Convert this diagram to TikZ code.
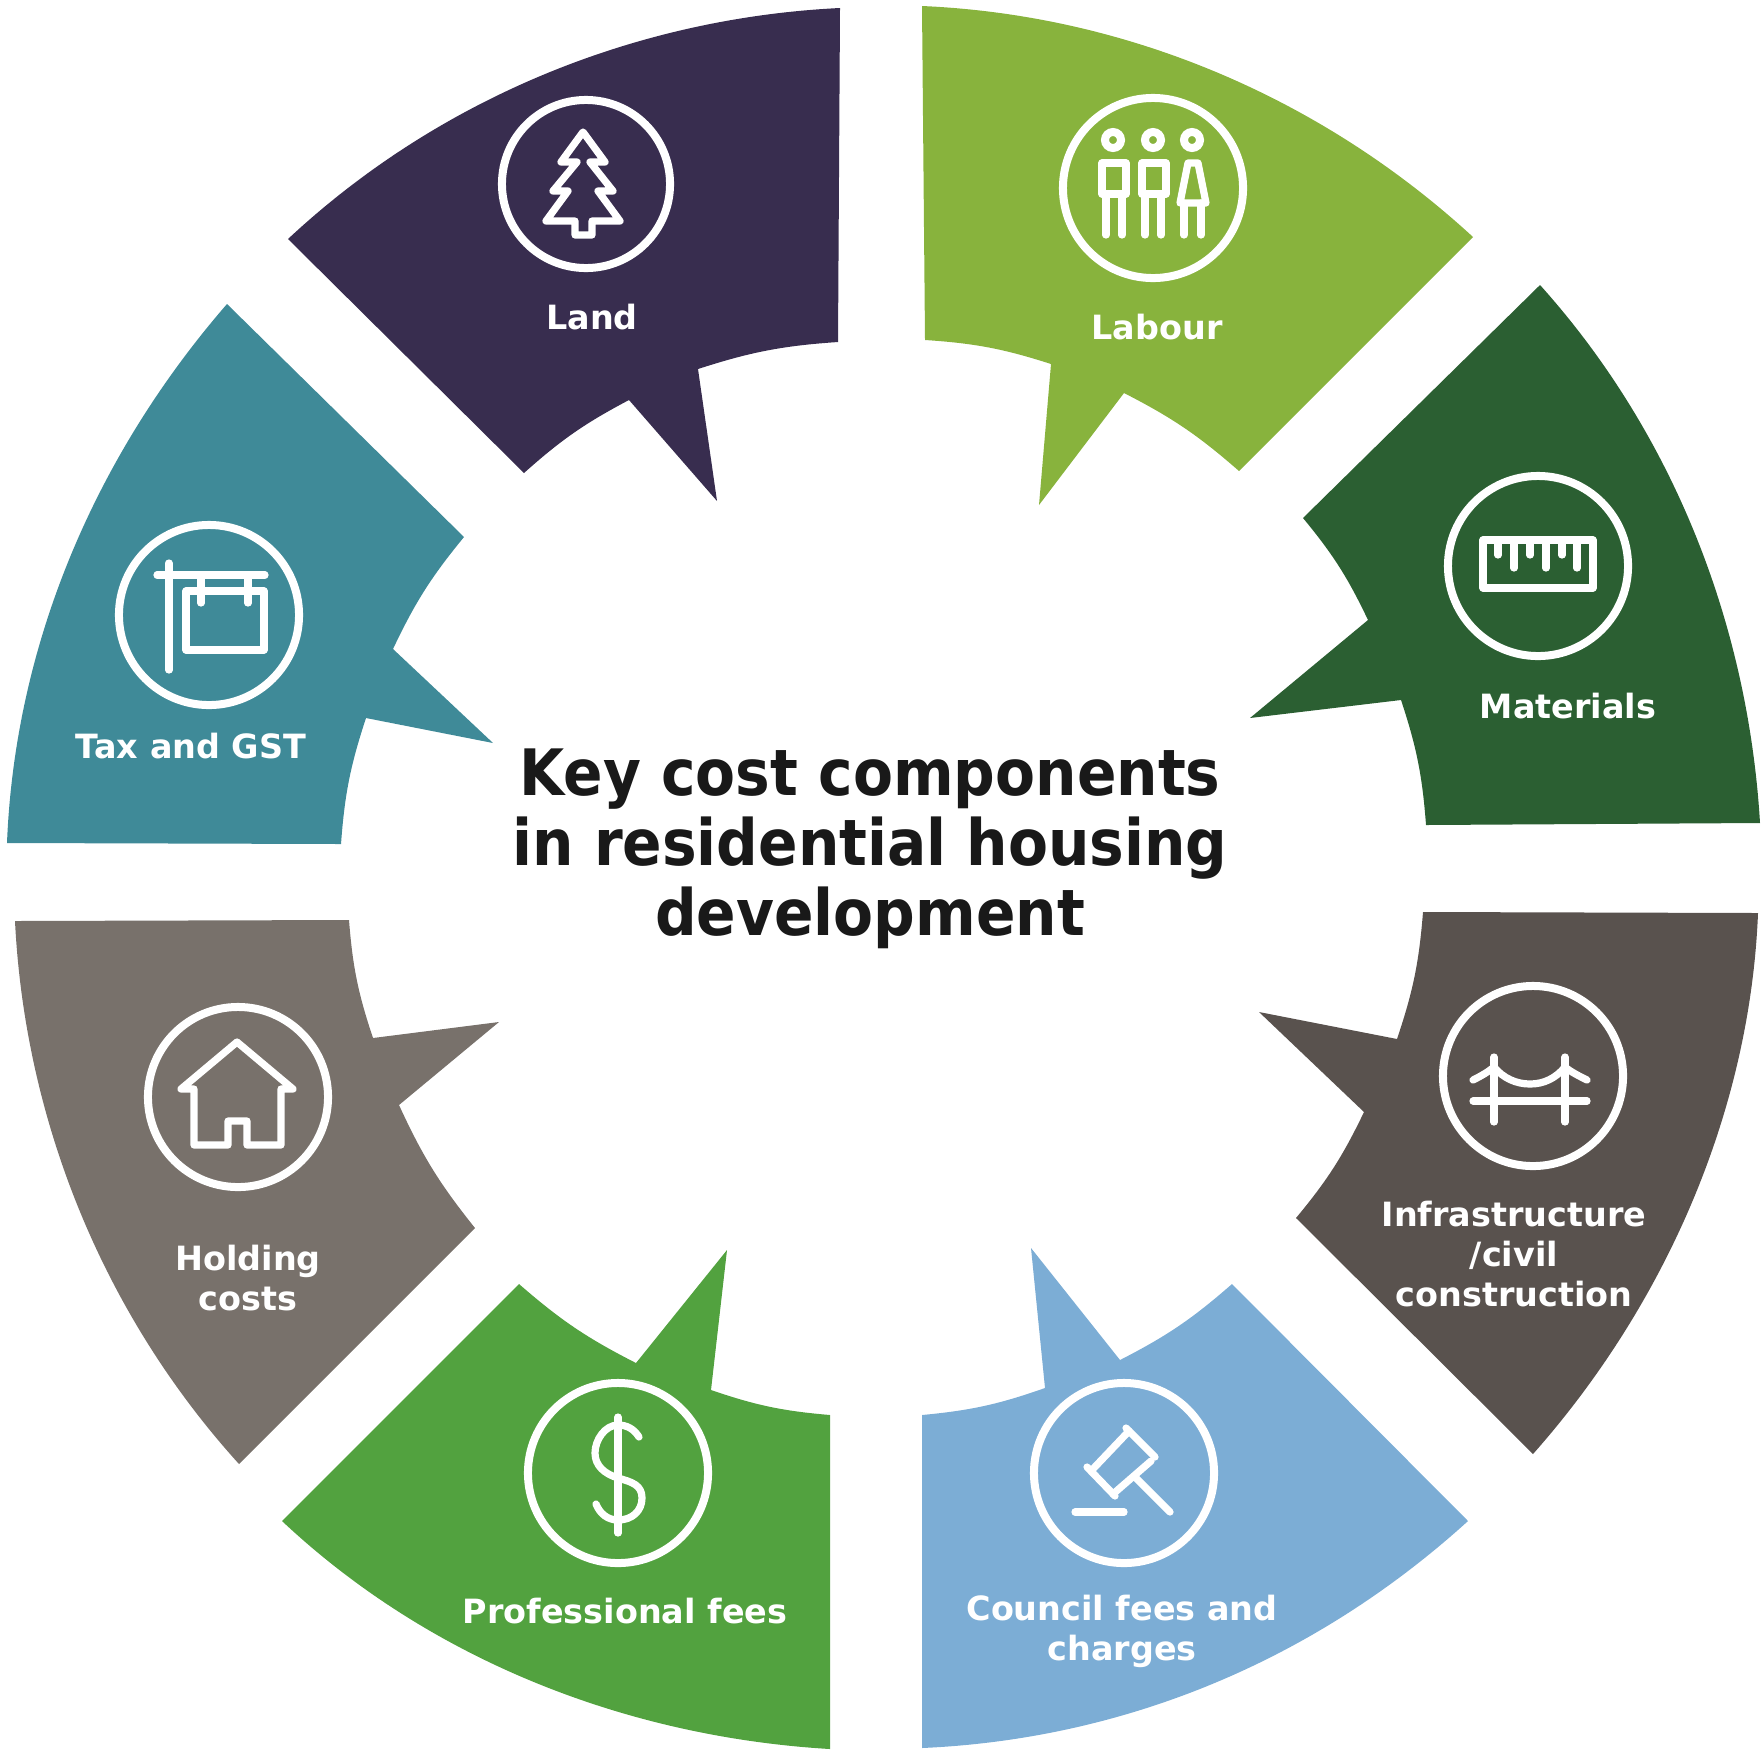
\documentclass[tikz,border=0pt]{standalone}
\usepackage{fontspec}
\setmainfont{DejaVu Sans}
\newfontfamily\titlefont[FakeStretch=0.91]{DejaVu Sans}
\definecolor{landcol}{HTML}{382D4F}
\definecolor{labourcol}{HTML}{88B33D}
\definecolor{matcol}{HTML}{2B5F32}
\definecolor{infracol}{HTML}{59524E}
\definecolor{councilcol}{HTML}{7CADD5}
\definecolor{profcol}{HTML}{52A23F}
\definecolor{holdcol}{HTML}{78716B}
\definecolor{taxcol}{HTML}{3F8A98}
\tikzset{
  ring/.style={draw=white,line width=0.08cm,circle,minimum size=1.8cm,inner sep=0pt},
  icon/.style={draw=white,line width=0.072cm,line cap=round,line join=round},
  lab/.style={text=white,font=\bfseries\fontsize{9.5}{11.38}\selectfont,align=center},
  inner/.style={bend right=7}
}
\begin{document}
\begin{tikzpicture}[x=0.01cm,y=-0.01cm]
\useasboundingbox (0,0) rectangle (1761,1751);
\fill[landcol] (288,239) .. controls (438,99) and (635,18) .. (840,8) -- (838,342) to[inner] (698,369) -- (717,501) -- (629,400) to[inner] (524,473) -- cycle;
\fill[labourcol] (922,6) .. controls (1127,15) and (1322,98) .. (1473,237) -- (1239,471) to[inner] (1124,393) -- (1039,505) -- (1051,364) to[inner] (925,340) -- cycle;
\fill[matcol] (1540,285) .. controls (1673,433) and (1748,624) .. (1760,823) -- (1426,825) to[inner] (1401,700) -- (1250,718) -- (1368,620) to[inner] (1303,518) -- cycle;
\fill[infracol] (1423,912) -- (1758,913) .. controls (1750,1112) and (1665,1305) .. (1533,1454) -- (1296,1218) to[inner] (1364,1112) -- (1259,1012) -- (1397,1039) to[inner] cycle;
\fill[councilcol] (1232,1284) -- (1468,1521) .. controls (1316,1659) and (1127,1739) .. (922,1748) -- (922,1415) to[inner] (1045,1388) -- (1031,1248) -- (1120,1360) to[inner] cycle;
\fill[profcol] (519,1284) to[inner] (636,1363) -- (727,1250) -- (711,1390) to[inner] (830,1415) -- (830,1749) .. controls (627,1737) and (430,1660) .. (282,1521) -- cycle;
\fill[holdcol] (15,921) -- (349,920) to[inner] (373,1038) -- (499,1022) -- (399,1105) to[inner] (475,1228) -- (239,1464) .. controls (104,1315) and (25,1122) .. cycle;
\fill[taxcol] (227,304) -- (464,537) to[inner] (393,649) -- (493,743) -- (366,718) to[inner] (341,844) -- (7,843) .. controls (15,643) and (96,455) .. cycle;

\node[ring,minimum size=1.68cm] (landring) at (586,184) {};
\node[ring] (labourring) at (1153,188) {};
\node[ring] (matring) at (1538,566) {};
\node[ring] (infraring) at (1533,1076) {};
\node[ring] (councilring) at (1124,1473) {};
\node[ring] (profring) at (618,1473) {};
\node[ring] (holdring) at (238,1097) {};
\node[ring] (taxring) at (209,615) {};

\draw[icon] (583,132) -- (605,162) -- (590,162) -- (613,191) -- (598,191) -- (620,221) -- (592,221) -- (592,235) -- (575,235) -- (575,221) -- (546,221) -- (568,191) -- (553,191) -- (577,162) -- (561,162) -- cycle;

\foreach \hx in {1113,1153,1192}
  \draw[draw=white,line width=0.08cm] (\hx,140) circle (8);
\draw[icon] (1102,163) rectangle (1126,194);
\draw[icon] (1106,194) -- (1106,235) (1122,194) -- (1122,235);
\draw[icon] (1142,163) rectangle (1166,194);
\draw[icon] (1145,194) -- (1145,235) (1161,194) -- (1161,235);
\draw[icon] (1188,163) -- (1198,163) -- (1206,203) -- (1180,203) -- cycle;
\draw[icon] (1184,203) -- (1184,235) (1201,203) -- (1201,235);

\draw[icon] (1483,540) rectangle (1593,588);
\foreach \tx in {1498,1530,1562}
  \draw[icon] (\tx,540) -- (\tx,555);
\foreach \tx in {1514,1546,1577}
  \draw[icon] (\tx,540) -- (\tx,568);

\draw[icon] (1494,1057) -- (1494,1122) (1565,1057) -- (1565,1122);
\draw[icon] (1473,1101) -- (1587,1101);
\draw[icon] (1473,1080) .. controls (1481,1076) and (1488,1072) .. (1494,1067) .. controls (1503,1078) and (1516,1084) .. (1530,1084) .. controls (1544,1084) and (1556,1078) .. (1565,1067) .. controls (1571,1072) and (1579,1076) .. (1587,1080);

\draw[icon] (1126,1428) -- (1155,1457) (1087,1467) -- (1115,1496);
\draw[icon] (1129,1431) -- (1091,1471) (1151,1461) -- (1113,1494);
\draw[icon] (1135,1477) -- (1170,1512);
\draw[icon] (1075,1512) -- (1124,1512);

\draw[icon] (618,1417) -- (618,1533);
\draw[icon] (639,1437) .. controls (634,1429) and (627,1425) .. (618,1425) .. controls (605,1425) and (595,1440) .. (595,1453) .. controls (595,1466) and (605,1474) .. (618,1478) .. controls (632,1482) and (642,1485) .. (642,1498) .. controls (642,1511) and (632,1520) .. (618,1520) .. controls (608,1520) and (600,1514) .. (596,1504);

\draw[icon] (237,1042) -- (293,1089) -- (281,1089) -- (281,1145) -- (247,1145) -- (247,1121) -- (228,1121) -- (228,1145) -- (194,1145) -- (194,1089) -- (181,1089) -- cycle;

\draw[icon] (169,563) -- (169,670);
\draw[icon] (157,575) -- (265,575);
\draw[icon] (201,575) -- (201,603) (248,575) -- (248,603);
\draw[icon] (186,591) rectangle (264,650);

\node[lab] (landlab) at (592,317) {Land};
\node[lab] (labourlab) at (1157,327) {Labour};
\node[lab] (matlab) at (1568,706) {Materials};
\node[lab] (infralab) at (1514,1254) {Infrastructure\\/civil\\construction};
\node[lab] (councillab) at (1122,1631) {Council fees and\\charges};
\node[lab] (proflab) at (625,1611) {Professional fees};
\node[lab] (holdlab) at (248,1278) {Holding\\costs};
\node[lab] (taxlab) at (191,746) {Tax and GST};
\node[text=black!90,font=\titlefont\bfseries\fontsize{18.2}{19.9}\selectfont,align=center] (title) at (870,849) {Key cost components\\in residential housing\\development};
\end{tikzpicture}
\end{document}
